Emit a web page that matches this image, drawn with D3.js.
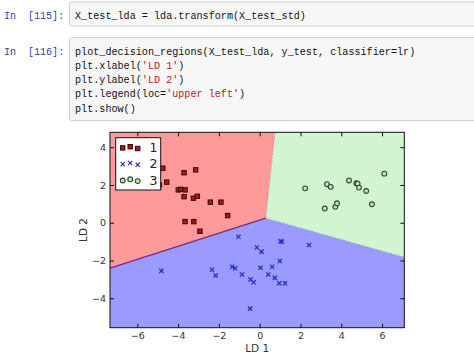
<!DOCTYPE html>
<html>
<head>
<meta charset="utf-8">
<script src="https://cdn.jsdelivr.net/npm/d3@7"></script>
<style>
  html, body { margin: 0; padding: 0; background: #fff; }
  svg { display: block; }
</style>
</head>
<body>
<svg id="page"></svg>
<script>
// ---- data ----
var class1 = [[-4.75, 2.89], [-3.71, 2.65], [-3.14, 2.80], [-4.56, 2.15], [-4.92, 2.00],
  [-3.99, 1.74], [-3.87, 1.77], [-3.66, 1.74], [-3.71, 1.38], [-3.25, 1.30], [-3.06, 1.40],
  [-2.42, 1.09], [-1.90, 1.09], [-1.57, 0.38], [-3.66, 0.06], [-3.23, 0.06], [-2.93, -0.45]];
var class2 = [[-1.04, -0.74], [-0.14, -1.31], [0.09, -1.53], [-4.82, -2.55], [-2.34, -2.49],
  [-2.16, -2.79], [-1.35, -2.33], [-1.20, -2.41], [-0.87, -2.74], [0.04, -2.38], [0.42, -2.74],
  [-0.45, -3.01], [-0.30, -3.15], [-0.47, -4.55], [1.02, -0.98], [1.09, -1.01], [2.42, -1.18],
  [0.99, -2.03], [0.61, -2.33], [0.74, -2.92], [0.96, -3.21], [1.24, -3.21]];
var class3 = [[2.23, 1.82], [3.30, 2.04], [3.48, 1.90], [4.38, 2.24], [4.74, 2.09], [4.80, 2.07],
  [4.87, 1.86], [5.22, 1.68], [6.11, 2.60], [3.19, 0.75], [3.71, 0.84], [3.79, 1.03], [5.50, 0.98]];

var xDomain = [-7.34, 7.09];
var yDomain = [-5.56, 4.79];
var xTicks = [-6, -4, -2, 0, 2, 4, 6];
var yTicks = [-4, -2, 0, 2, 4];
var legendLabels = ["1", "2", "3"];

// decision boundary vertices (data units)
var triplePoint = [0.30, 0.24];
var redBlueEdge = [-7.34, -2.41];
var redGreenEdge = [0.75, 4.79];
var blueGreenEdge = [7.09, -1.83];

// notebook cells
var cells = [
  { prompt: "In  [115]:", top: 2, bottom: 26, lines: [
    [["X_test_lda = lda.transform(X_test_std)", "#111"]]
  ]},
  { prompt: "In  [116]:", top: 37.5, bottom: 120.5, lines: [
    [["plot_decision_regions(X_test_lda, y_test, classifier=lr)", "#111"]],
    [["plt.xlabel(", "#111"], ["'LD 1'", "#ba2121"], [")", "#111"]],
    [["plt.ylabel(", "#111"], ["'LD 2'", "#ba2121"], [")", "#111"]],
    [["plt.legend(loc=", "#111"], ["'upper left'", "#ba2121"], [")", "#111"]],
    [["plt.show()", "#111"]]
  ]}
];

var W = 474, H = 362;
var svg = d3.select("#page").attr("width", W).attr("height", H);

// ---- notebook cells ----
// monospace advance is 0.6em; squeeze it to ~6.08px per character
var fontSize = 11.5;
var squeeze = 6.08 / (0.6 * fontSize);
var mono = "'Liberation Mono', 'DejaVu Sans Mono', monospace";

cells.forEach(function(c) {
  svg.append("rect")
    .attr("x", 69.5).attr("y", c.top)
    .attr("width", 420).attr("height", c.bottom - c.top)
    .attr("rx", 2)
    .attr("fill", "#f7f7f7")
    .attr("stroke", "#cfcfcf");

  var base0 = c.top + 17.3;
  svg.append("text")
    .attr("transform", "translate(4," + base0 + ") scale(" + (squeeze * 0.99) + ",1)")
    .attr("font-family", mono).attr("font-size", fontSize)
    .attr("fill", "#303f9f")
    .style("white-space", "pre")
    .text(c.prompt);

  c.lines.forEach(function(line, i) {
    var t = svg.append("text")
      .attr("transform", "translate(75," + (base0 + i * 14.2) + ") scale(" + squeeze + ",1)")
      .attr("font-family", mono).attr("font-size", fontSize)
      .style("white-space", "pre");
    line.forEach(function(seg) {
      t.append("tspan").attr("fill", seg[1]).text(seg[0]);
    });
  });
});

// ---- chart ----
var plot = {left: 110, right: 404.3, top: 132.3, bottom: 327.7};
var x = d3.scaleLinear().domain(xDomain).range([plot.left, plot.right]);
var y = d3.scaleLinear().domain(yDomain).range([plot.bottom, plot.top]);

var g = svg.append("g");

var corners = {
  tl: [xDomain[0], yDomain[1]], tr: [xDomain[1], yDomain[1]],
  bl: [xDomain[0], yDomain[0]], br: [xDomain[1], yDomain[0]]
};
var regions = [
  { fill: "#ff9a9a", pts: [corners.tl, redGreenEdge, triplePoint, redBlueEdge] },
  { fill: "#9a9aff", pts: [redBlueEdge, triplePoint, blueGreenEdge, corners.br, corners.bl] },
  { fill: "#d0f5d0", pts: [redGreenEdge, corners.tr, blueGreenEdge, triplePoint] }
];
var poly = d3.line().x(function(d) { return x(d[0]); }).y(function(d) { return y(d[1]); });

g.selectAll("path.region")
  .data(regions)
  .enter().append("path")
  .attr("class", "region")
  .attr("d", function(d) { return poly(d.pts) + "Z"; })
  .attr("fill", function(d) { return d.fill; });

// boundary lines
var edges = [
  { pts: [redBlueEdge, triplePoint], stroke: "#7a2a7e", w: 1.3, dash: null },
  { pts: [triplePoint, redGreenEdge], stroke: "#b09a9a", w: 0.8, dash: "2,1" },
  { pts: [triplePoint, blueGreenEdge], stroke: "#8e9ec8", w: 0.8, dash: "2,1" }
];
g.selectAll("path.edge")
  .data(edges)
  .enter().append("path")
  .attr("d", function(d) { return poly(d.pts); })
  .attr("fill", "none")
  .attr("stroke", function(d) { return d.stroke; })
  .attr("stroke-width", function(d) { return d.w; })
  .attr("stroke-dasharray", function(d) { return d.dash; });

// markers
function square(sel, cx, cy) {
  sel.append("rect")
    .attr("x", cx - 2.2).attr("y", cy - 2.2)
    .attr("width", 4.4).attr("height", 4.4)
    .attr("fill", "#a8181e")
    .attr("stroke", "#3d0606")
    .attr("stroke-width", 1);
}
function cross(sel, cx, cy) {
  sel.append("path")
    .attr("d", "M" + (cx - 2.1) + "," + (cy - 2.1) + "L" + (cx + 2.1) + "," + (cy + 2.1) +
               "M" + (cx - 2.1) + "," + (cy + 2.1) + "L" + (cx + 2.1) + "," + (cy - 2.1))
    .attr("stroke", "#2626c8")
    .attr("stroke-width", 1.2)
    .attr("fill", "none");
}
function circle(sel, cx, cy) {
  sel.append("circle")
    .attr("cx", cx).attr("cy", cy).attr("r", 2.4)
    .attr("fill", "#b8e8b8")
    .attr("stroke", "#2c4a2c")
    .attr("stroke-width", 1.1);
}
var drawers = [square, cross, circle];

var marks = g.append("g");
[class1, class2, class3].forEach(function(pts, k) {
  pts.forEach(function(d) { drawers[k](marks, x(d[0]), y(d[1])); });
});

// frame
g.append("rect")
  .attr("x", plot.left).attr("y", plot.top)
  .attr("width", plot.right - plot.left).attr("height", plot.bottom - plot.top)
  .attr("fill", "none").attr("stroke", "#111").attr("stroke-width", 1);

// axes with inward ticks
var tickFont = "'DejaVu Sans', sans-serif";
function styleAxis(a) {
  a.select(".domain").remove();
  a.selectAll(".tick line").attr("stroke", "#111");
  a.selectAll("text").attr("font-family", tickFont).attr("font-size", 9.5).attr("fill", "#333");
}
g.append("g").attr("transform", "translate(0," + plot.bottom + ")")
  .call(d3.axisBottom(x).tickValues(xTicks).tickSizeInner(-4).tickSizeOuter(0).tickPadding(5))
  .call(styleAxis);
g.append("g").attr("transform", "translate(0," + plot.top + ")")
  .call(d3.axisTop(x).tickValues(xTicks).tickSizeInner(-4).tickSizeOuter(0).tickFormat(""))
  .call(styleAxis);
g.append("g").attr("transform", "translate(" + plot.left + ",0)")
  .call(d3.axisLeft(y).tickValues(yTicks).tickSizeInner(-4).tickSizeOuter(0).tickPadding(4))
  .call(styleAxis);
g.append("g").attr("transform", "translate(" + plot.right + ",0)")
  .call(d3.axisRight(y).tickValues(yTicks).tickSizeInner(-4).tickSizeOuter(0).tickFormat(""))
  .call(styleAxis);

// axis labels
g.append("text")
  .attr("x", (plot.left + plot.right) / 2).attr("y", 351.5)
  .attr("text-anchor", "middle")
  .attr("font-family", tickFont).attr("font-size", 10.5).attr("fill", "#333")
  .text("LD 1");
g.append("text")
  .attr("transform", "translate(87," + ((plot.top + plot.bottom) / 2) + ") rotate(-90)")
  .attr("text-anchor", "middle")
  .attr("font-family", tickFont).attr("font-size", 10.5).attr("fill", "#333")
  .text("LD 2");

// legend
var leg = g.append("g");
leg.append("rect")
  .attr("x", 115.7).attr("y", 137.7)
  .attr("width", 45).attr("height", 52.3)
  .attr("fill", "#fff").attr("stroke", "#111").attr("stroke-width", 1);
var jitter = [0.4, -0.8, 1.0];
legendLabels.forEach(function(lab, k) {
  var cy = 147.5 + k * 16.3;
  [122.7, 130.2, 137.7].forEach(function(cx, j) {
    drawers[k](leg, cx, cy + jitter[j]);
  });
  leg.append("text")
    .attr("x", 149.5).attr("y", cy + 4.6)
    .attr("font-family", tickFont).attr("font-size", 12.5).attr("fill", "#222")
    .text(lab);
});
</script>
</body>
</html>
